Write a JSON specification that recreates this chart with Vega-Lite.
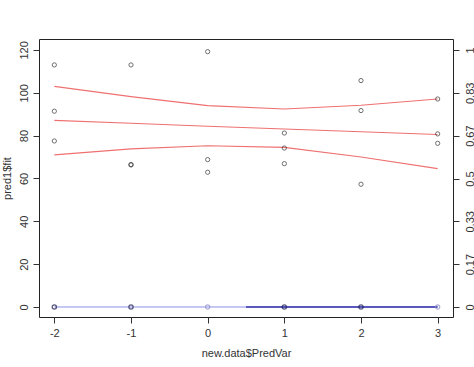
{
  "$schema": "https://vega.github.io/schema/vega-lite/v6.json",
  "width": 414,
  "height": 278,
  "autosize": {"type": "none"},
  "padding": {"left": 39, "top": 39, "right": 21, "bottom": 50},
  "background": "white",
  "config": {
    "view": {"stroke": "#222", "strokeWidth": 1},
    "axis": {
      "grid": false,
      "domain": false,
      "tickColor": "#333",
      "tickSize": 6,
      "labelFont": "Liberation Sans",
      "labelFontSize": 11,
      "labelColor": "#333",
      "titleFont": "Liberation Sans",
      "titleFontSize": 11,
      "titleFontWeight": "normal",
      "titleColor": "#333"
    }
  },
  "datasets": {
    "obs": [
      {"x": -2, "y": 113.0}, {"x": -2, "y": 91.4}, {"x": -2, "y": 77.5},
      {"x": -1, "y": 113.0}, {"x": -1, "y": 66.3}, {"x": -1, "y": 66.5},
      {"x": 0, "y": 119.2}, {"x": 0, "y": 68.8}, {"x": 0, "y": 62.9},
      {"x": 1, "y": 81.2}, {"x": 1, "y": 74.2}, {"x": 1, "y": 66.9},
      {"x": 2, "y": 105.7}, {"x": 2, "y": 91.7}, {"x": 2, "y": 57.3},
      {"x": 3, "y": 97.1}, {"x": 3, "y": 80.8}, {"x": 3, "y": 76.4}
    ],
    "bands": [
      {"x": -2, "y": 87.1, "band": "fit"}, {"x": -1, "y": 85.8, "band": "fit"}, {"x": 0, "y": 84.4, "band": "fit"},
      {"x": 1, "y": 83.1, "band": "fit"}, {"x": 2, "y": 81.8, "band": "fit"}, {"x": 3, "y": 80.5, "band": "fit"},
      {"x": -2, "y": 103.0, "band": "upr"}, {"x": -1, "y": 98.2, "band": "upr"}, {"x": 0, "y": 94.0, "band": "upr"},
      {"x": 1, "y": 92.4, "band": "upr"}, {"x": 2, "y": 94.2, "band": "upr"}, {"x": 3, "y": 97.1, "band": "upr"},
      {"x": -2, "y": 71.0, "band": "lwr"}, {"x": -1, "y": 73.8, "band": "lwr"}, {"x": 0, "y": 75.3, "band": "lwr"},
      {"x": 1, "y": 74.5, "band": "lwr"}, {"x": 2, "y": 70.0, "band": "lwr"}, {"x": 3, "y": 64.6, "band": "lwr"}
    ],
    "zeroDark": [{"x": -2, "p": 0}, {"x": -1, "p": 0}, {"x": 1, "p": 0}, {"x": 2, "p": 0}],
    "zeroLight": [{"x": 0, "p": 0}, {"x": 3, "p": 0}],
    "blueLight": [{"x": -2, "p": 0}, {"x": 0.5, "p": 0}],
    "blueDark": [{"x": 0.5, "p": 0}, {"x": 3, "p": 0}]
  },
  "layer": [
    {
      "layer": [
        {
          "data": {"name": "bands"},
          "mark": {"type": "line", "color": "#ef7070", "strokeWidth": 1.1},
          "encoding": {
            "x": {"field": "x", "type": "quantitative", "scale": {"domain": [-2.2, 3.2], "nice": false, "zero": false},
                  "axis": {"values": [-2, -1, 0, 1, 2, 3], "labelExpr": "'' + datum.value", "labelPadding": 4, "title": "new.data$PredVar", "titleY": 36, "titleBaseline": "middle"}},
            "y": {"field": "y", "type": "quantitative", "scale": {"domain": [-4.67, 125.1], "nice": false, "zero": false},
                  "axis": {"orient": "left", "values": [0, 20, 40, 60, 80, 100, 120], "labelAngle": -90, "labelAlign": "center", "labelBaseline": "bottom", "labelPadding": 4,
                           "title": "pred1$fit", "titleX": -32, "titleY": 139, "titleAngle": -90, "titleAlign": "center", "titleBaseline": "middle"}},
            "detail": {"field": "band"}
          }
        },
        {
          "data": {"name": "obs"},
          "mark": {"type": "point", "shape": "circle", "filled": false, "stroke": "#333", "strokeWidth": 1, "size": 18},
          "encoding": {
            "x": {"field": "x", "type": "quantitative"},
            "y": {"field": "y", "type": "quantitative"}
          }
        }
      ]
    },
    {
      "layer": [
        {
          "data": {"name": "blueLight"},
          "mark": {"type": "line", "color": "#9090ea", "strokeWidth": 1.2},
          "encoding": {
            "x": {"field": "x", "type": "quantitative"},
            "y": {"field": "p", "type": "quantitative", "scale": {"domain": [-0.0389, 1.0428], "nice": false, "zero": false},
                  "axis": {"orient": "right", "values": [0, 0.1666667, 0.3333333, 0.5, 0.6666667, 0.8333333, 1], "format": ".2~f", "labelAngle": -90, "labelAlign": "center", "labelBaseline": "top", "labelPadding": 5, "title": null}}
          }
        },
        {
          "data": {"name": "blueDark"},
          "mark": {"type": "line", "color": "#2020a8", "strokeWidth": 1.3},
          "encoding": {
            "x": {"field": "x", "type": "quantitative"},
            "y": {"field": "p", "type": "quantitative"}
          }
        },
        {
          "data": {"name": "zeroDark"},
          "mark": {"type": "point", "shape": "circle", "filled": false, "stroke": "#1a1a50", "strokeWidth": 1.3, "size": 18},
          "encoding": {
            "x": {"field": "x", "type": "quantitative"},
            "y": {"field": "p", "type": "quantitative"}
          }
        },
        {
          "data": {"name": "zeroLight"},
          "mark": {"type": "point", "shape": "circle", "filled": false, "stroke": "#8a8ac8", "strokeWidth": 1.1, "size": 18},
          "encoding": {
            "x": {"field": "x", "type": "quantitative"},
            "y": {"field": "p", "type": "quantitative"}
          }
        }
      ]
    }
  ],
  "resolve": {"scale": {"y": "independent"}, "axis": {"y": "independent"}}
}
